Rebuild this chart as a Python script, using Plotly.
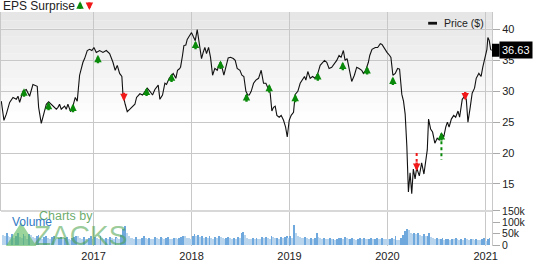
import pandas as pd
import plotly.graph_objects as go

# ---------------- data ----------------
# price series: time as fractional year, price in $
price_t = [2016.061,2016.088,2016.112,2016.146,2016.180,2016.214,2016.231,2016.248,2016.281,2016.315,
           2016.349,2016.383,2016.427,2016.441,2016.468,2016.495,2016.519,2016.543,2016.587,2016.621,
           2016.638,2016.654,2016.671,2016.705,2016.722,2016.739,2016.766,2016.790,2016.814,2016.834,
           2016.858,2016.875,2016.892,2016.909,2016.936,2016.960,2016.983,2017.004,2017.028,2017.062,
           2017.096,2017.130,2017.164,2017.198,2017.221,2017.242,2017.266,2017.289,2017.300,2017.323,
           2017.344,2017.371,2017.398,2017.422,2017.439,2017.473,2017.500,2017.524,2017.548,2017.575,
           2017.602,2017.626,2017.660,2017.677,2017.704,2017.728,2017.745,2017.772,2017.796,2017.813,
           2017.840,2017.857,2017.874,2017.888,2017.908,2017.922,2017.942,2017.956,2017.976,2018.000,
           2018.017,2018.038,2018.058,2018.079,2018.102,2018.119,2018.136,2018.153,2018.174,2018.194,
           2018.215,2018.238,2018.262,2018.290,2018.310,2018.330,2018.351,2018.374,2018.398,2018.426,
           2018.446,2018.466,2018.494,2018.514,2018.534,2018.555,2018.575,2018.589,2018.609,2018.633,
           2018.657,2018.684,2018.711,2018.735,2018.759,2018.779,2018.803,2018.820,2018.837,2018.854,
           2018.871,2018.895,2018.915,2018.939,2018.960,2018.977,2018.997,2019.017,2019.041,2019.058,
           2019.085,2019.109,2019.133,2019.153,2019.167,2019.187,2019.211,2019.235,2019.262,2019.289,
           2019.313,2019.336,2019.357,2019.380,2019.404,2019.431,2019.459,2019.482,2019.506,2019.526,
           2019.550,2019.567,2019.588,2019.608,2019.635,2019.662,2019.686,2019.710,2019.737,2019.754,
           2019.778,2019.805,2019.819,2019.842,2019.876,2019.900,2019.927,2019.944,2019.968,2019.995,
           2020.022,2020.035,2020.055,2020.079,2020.103,2020.123,2020.146,2020.163,2020.180,2020.197,
           2020.213,2020.230,2020.247,2020.263,2020.281,2020.297,2020.324,2020.348,2020.371,2020.391,
           2020.405,2020.418,2020.439,2020.459,2020.482,2020.506,2020.526,2020.549,2020.573,2020.593,
           2020.610,2020.627,2020.650,2020.674,2020.694,2020.718,2020.734,2020.761,2020.785,2020.802,
           2020.819,2020.842,2020.862,2020.886,2020.903,2020.930,2020.953,2020.970,2020.997,2021.012,
           2021.022,2021.036,2021.050,2021.060]
price = [28.4,25.3,26.3,28.2,29.0,28.7,29.2,28.2,30.0,30.3,
         29.2,31.1,30.8,27.4,24.8,26.3,27.9,28.3,27.6,27.1,
         27.4,27.9,27.1,27.6,27.1,27.9,26.7,27.6,29.0,28.4,
         32.6,33.9,34.7,35.3,36.6,36.8,36.6,37.1,36.3,36.6,
         36.3,36.6,36.1,34.7,33.4,34.2,32.9,32.4,29.5,27.9,
         26.7,27.1,27.6,27.9,29.0,29.6,29.4,30.0,30.5,30.0,
         29.4,30.3,31.0,28.7,29.4,31.3,31.1,32.1,32.7,32.9,
         32.1,33.4,33.6,33.9,35.8,37.4,37.5,38.4,38.9,39.5,
         38.9,38.2,40.0,37.9,35.3,36.3,37.1,36.1,37.1,35.5,
         32.6,33.7,33.4,34.6,33.9,32.6,34.2,35.4,35.5,35.3,
         35.0,33.7,33.4,32.6,32.4,30.0,29.4,29.4,30.0,31.3,
         31.8,32.1,33.4,31.3,31.3,30.5,29.7,26.8,27.4,27.6,
         26.1,25.8,26.1,25.3,24.2,22.6,25.3,26.1,26.6,29.5,
         30.0,31.3,31.8,32.4,31.8,33.2,32.1,32.4,32.1,32.9,
         34.2,34.7,35.0,34.7,33.7,33.9,34.5,35.0,35.8,35.5,
         36.6,35.0,35.3,33.7,31.6,32.6,33.9,33.7,33.4,32.9,
         33.4,34.7,35.8,36.8,37.1,37.1,37.7,37.6,36.9,36.3,
         35.8,35.5,32.6,32.9,33.7,33.6,29.5,28.4,26.3,21.1,
         13.7,16.8,13.4,17.4,15.8,17.6,16.3,18.4,16.6,18.9,
         20.5,25.5,23.9,23.4,21.6,22.4,22.1,23.2,22.6,24.2,
         25.0,24.2,25.5,26.1,25.8,26.8,25.8,28.7,29.2,28.7,
         25.0,27.4,29.7,30.5,32.1,32.9,32.4,33.9,35.8,36.8,
         38.7,38.2,36.8,36.63]
last_price_label = "36.63"

# EPS surprise events: time (fractional year), tip price, type, optional dashed tail span
eps_t = [2016.292,2016.542,2016.791,2017.045,2017.310,2017.541,2017.796,2018.041,2018.296,2018.561,
         2018.793,2019.058,2019.289,2019.544,2019.792,2020.055,2020.297,2020.549,2020.791]
eps_tip = [30.5,28.3,28.0,35.9,28.4,30.6,32.9,38.2,35.0,29.7,
           31.2,29.6,33.1,34.8,34.1,32.4,17.1,23.4,28.5]
eps_type = ["beat","beat","beat","beat","miss","beat","beat","beat","beat","beat",
            "beat","beat","beat","beat","beat","beat","miss","beat","miss"]
eps_tail = [None]*16 + [(20.0, 18.6), (21.9, 18.9), None]

# weekly volume (thousands), starting 2016-01-29
vol_start = "2016-01-29"
vol16 = [45,38,52,40,35,48,30,42,55,36,33,47,40,28,50,44,35,30,38,45,32,28,36,41,30,25,34,39,29,27,33,37,26,30,35,28,24,31,36,42,38,30,27,34,29,26,33,40,28]
vol17 = [35,30,28,38,32,27,33,29,36,31,28,34,30,27,45,70,83,55,40,33,30,28,35,29,26,31,38,30,27,33,29,25,34,30,28,36,32,27,30,35,29,26,33,31,28,30,36,42,38,33,30,28]
vol18 = [42,50,38,45,36,40,33,35,30,38,32,29,35,31,40,34,30,28,33,36,30,27,32,29,35,31,52,58,45,33,28,25,30,27,32,29,26,34,30,36,33,28,38,35,30,32,29,34,31,36,40,33]
vol19 = [38,32,88,55,40,35,33,30,36,31,28,33,29,30,52,35,30,27,32,28,25,30,26,29,24,27,31,33,28,35,30,26,29,31,27,24,28,30,26,33,29,25,27,30,26,28,32,29,26,30,27,25]
vol20 = [25,28,30,26,39,24,22,30,45,62,70,68,55,50,52,48,53,45,40,50,38,42,55,36,30,28,33,25,27,30,24,26,29,23,28,25,31,27,22,26,24,30,27,23,28,25,21,26,24,22,27,30,20]
vol21 = [28,30]

x_range_t = [2016.058, 2021.064]
year_ticks = ["2017", "2018", "2019", "2020", "2021"]
price_ticks = [15, 20, 25, 30, 35, 40]
vol_ticks = [0, 50000, 100000, 150000]
vol_tick_text = ["0", "50k", "100k", "150k"]

# ---------------- helpers ----------------
def fy(t):
    y = int(t)
    a = pd.Timestamp(year=y, month=1, day=1)
    b = pd.Timestamp(year=y + 1, month=1, day=1)
    return a + (b - a) * (t - y)

price_dates = [fy(t) for t in price_t]
volumes = [v * 1000 for v in (vol16 + vol17 + vol18 + vol19 + vol20 + vol21)]
vol_dates = pd.date_range(vol_start, periods=len(volumes), freq="7D")
vol_colors = ["#6fa8dc" if i > 0 and volumes[i] > volumes[i - 1] else "#b9d5ee"
              for i in range(len(volumes))]

FONT = "Liberation Sans, Arial, sans-serif"
GREEN = "#0a8a0a"
RED = "#f01818"
ARW = dict(arrowhead=2, arrowsize=0.62, arrowwidth=2.4, standoff=0, startstandoff=0)

fig = go.Figure()

fig.add_trace(go.Bar(x=vol_dates, y=volumes, marker_color=vol_colors, marker_line_width=0,
                     width=1000 * 3600 * 24 * 3.4, xaxis="x", yaxis="y2", showlegend=False,
                     hoverinfo="skip"))
fig.add_trace(go.Scatter(x=price_dates, y=price, mode="lines",
                         line=dict(color="#111111", width=1.1), xaxis="x", yaxis="y",
                         showlegend=False, hoverinfo="skip"))

# background gradient of price panel
nb = 24
for i in range(nb):
    f = i / nb
    c = int(255 - (255 - 228) * max(0.0, (f - 0.45) / 0.55)) if f > 0.45 else 255
    fig.add_shape(type="rect", xref="x domain", yref="y domain", x0=0, x1=1,
                  y0=f, y1=(i + 1) / nb, fillcolor=f"rgb({c},{c},{c})",
                  line_width=0, layer="below")

# separator between panels
fig.add_shape(type="line", xref="x domain", yref="y2 domain", x0=0, x1=1, y0=1, y1=1,
              line=dict(color="#d8d8d8", width=2))

annotations = []
for t, tip, kind, tail in zip(eps_t, eps_tip, eps_type, eps_tail):
    d = fy(t)
    col = GREEN if kind == "beat" else RED
    if tail is not None:
        fig.add_shape(type="line", xref="x", yref="y", x0=d, x1=d, y0=tail[0], y1=tail[1],
                      line=dict(color=col, width=2, dash="dot"))
    annotations.append(dict(x=d, y=tip, xref="x", yref="y", text="", showarrow=True,
                            ax=0, ay=10 if kind == "beat" else -10, arrowcolor=col, **ARW))

# header: EPS Surprise
annotations.append(dict(x=0, y=1.024, xref="paper", yref="paper", text="EPS Surprise",
                        showarrow=False, xanchor="left", yanchor="middle",
                        font=dict(family=FONT, size=12, color="#222")))
annotations.append(dict(x=0.161, y=1.046, xref="paper", yref="paper", text="", showarrow=True,
                        ax=0, ay=9, arrowcolor=GREEN, **ARW))
annotations.append(dict(x=0.180, y=1.009, xref="paper", yref="paper", text="", showarrow=True,
                        ax=0, ay=-9, arrowcolor=RED, **ARW))

# legend-like label
fig.add_shape(type="rect", xref="paper", yref="paper", x0=0.870, x1=0.888, y0=0.946, y1=0.958,
              fillcolor="#111", line_width=0)
annotations.append(dict(x=0.899, y=0.952, xref="paper", yref="paper", text="Price ($)",
                        showarrow=False, xanchor="left", yanchor="middle",
                        font=dict(family=FONT, size=10.5, color="#222")))

# last price tag
annotations.append(dict(x=1, y=price[-1], xref="paper", yref="y", text=last_price_label,
                        showarrow=True, ax=24, ay=0, arrowhead=0, arrowwidth=13,
                        arrowcolor="#000", bgcolor="#000", borderpad=2, standoff=0,
                        font=dict(family=FONT, size=11, color="#fff")))

# watermark
fig.add_shape(type="path", xref="paper", yref="paper",
              path="M 0.010,0.0 L 0.072,0.0 L 0.041,0.10 Z",
              fillcolor="rgba(90,185,90,0.6)", line_width=0)
annotations.append(dict(x=0.074, y=0.129, xref="paper", yref="paper", text="Charts by",
                        showarrow=False, xanchor="left", yanchor="middle",
                        font=dict(family=FONT, size=12.5, color="rgba(70,150,70,0.8)")))
annotations.append(dict(x=0.064, y=0.045, xref="paper", yref="paper", text="ZACKS",
                        showarrow=False, xanchor="left", yanchor="middle",
                        font=dict(family=FONT, size=28, color="rgba(70,160,70,0.55)")))
annotations.append(dict(x=0.018, y=0.104, xref="paper", yref="paper", text="Volume",
                        showarrow=False, xanchor="left", yanchor="middle",
                        font=dict(family=FONT, size=12, color="#2f78c4")))

fig.update_layout(
    width=534, height=262,
    margin=dict(l=0, r=42, t=12, b=10),
    paper_bgcolor="white", plot_bgcolor="white",
    bargap=0,
    xaxis=dict(type="date", range=[fy(x_range_t[0]), fy(x_range_t[1])], anchor="y2",
               tickvals=[pd.Timestamp(y + "-01-01") for y in year_ticks], ticktext=year_ticks,
               showgrid=True, gridcolor="#c8c8c8", gridwidth=1, ticks="", zeroline=False,
               showline=False, ticklabelstandoff=2,
               tickfont=dict(family=FONT, size=11, color="#222")),
    yaxis=dict(domain=[0.15, 1], range=[10.63, 42.84], side="right", anchor="x",
               tickvals=price_ticks, showgrid=True, gridcolor="#c8c8c8", gridwidth=1,
               ticks="outside", ticklen=7, tickcolor="#aaa", zeroline=False,
               showline=True, linecolor="#c8c8c8", mirror=True,
               tickfont=dict(family=FONT, size=11, color="#222")),
    yaxis2=dict(domain=[0, 0.15], range=[-4200, 150000], side="right", anchor="x",
                tickvals=vol_ticks, ticktext=vol_tick_text, showgrid=False,
                ticks="outside", ticklen=7, tickcolor="#aaa", zeroline=False,
                showline=True, linecolor="#c8c8c8",
                tickfont=dict(family=FONT, size=10.5, color="#222")),
    annotations=annotations,
)

fig.write_html("out.html")
